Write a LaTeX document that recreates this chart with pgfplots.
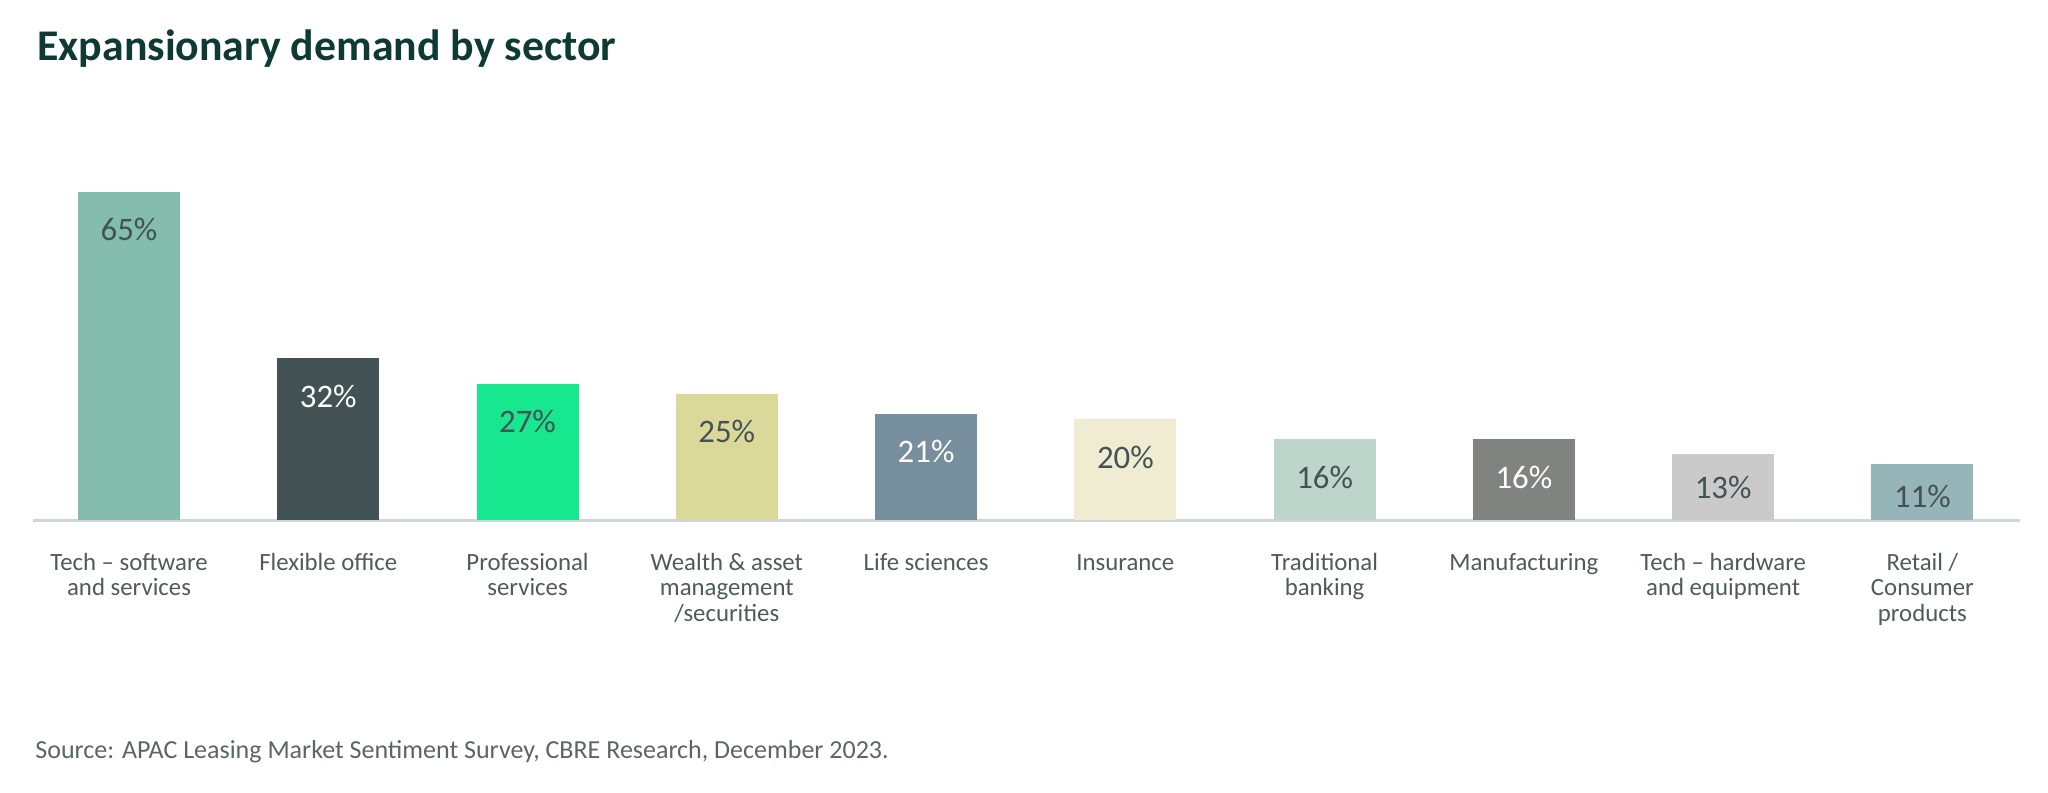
\documentclass[border=0pt]{standalone}
\usepackage{fontspec}
\setmainfont{Carlito}
\usepackage{pgfplots}
\pgfplotsset{compat=1.18}

\definecolor{titlecol}{HTML}{0F3A34}
\definecolor{labelcol}{HTML}{4F5A5C}
\definecolor{srccol}{HTML}{5B6566}
\definecolor{numdark}{HTML}{435254}
\definecolor{axisline}{HTML}{CDD6D8}
\definecolor{c1}{HTML}{84BCAD}
\definecolor{c2}{HTML}{435254}
\definecolor{c3}{HTML}{17E88F}
\definecolor{c4}{HTML}{DBD99A}
\definecolor{c5}{HTML}{778F9C}
\definecolor{c6}{HTML}{EFECD2}
\definecolor{c7}{HTML}{BED5CB}
\definecolor{c8}{HTML}{7F8480}
\definecolor{c9}{HTML}{CACACA}
\definecolor{c10}{HTML}{96B5B9}

\pgfplotsset{
  onebar/.style 2 args={fill=#1, draw=none, bar shift=0pt,
    every node near coord/.append style={text=#2}},
}

\begin{document}
\begin{tikzpicture}
\useasboundingbox (-16.5pt,-136pt) rectangle (1007.5pt,260pt);

\node[anchor=base west, inner sep=0pt, text=titlecol,
      font=\fontsize{21.9}{24}\selectfont\bfseries] at (2pt,229.5pt)
  {Expansionary demand by sector};

\begin{axis}[
  at={(0,0)}, anchor=south west,
  scale only axis, width=993.5pt, height=176.75pt,
  xmin=-0.482, xmax=9.49, ymin=0, ymax=70,
  ybar, bar width=51pt,
  axis x line*=bottom, axis y line=none,
  x axis line style={draw=axisline, line width=1.5pt},
  major tick length=0pt,
  xtick={0,...,9},
  xticklabels={
    {\strut Tech – software\\and services},
    {\strut Flexible office},
    {\strut Professional\\services},
    {\strut Wealth \& asset\\management\\/securities},
    {\strut Life sciences},
    {\strut Insurance},
    {\strut Traditional\\banking},
    {\strut Manufacturing},
    {\strut Tech – hardware\\and equipment},
    {\strut Retail /\\Consumer\\products}},
  xticklabel style={anchor=north, align=center, inner sep=0pt,
    yshift=-16.1pt, text=labelcol,
    font=\fontsize{12.4}{12.75}\selectfont},
  ytick=\empty,
  nodes near coords={\pgfmathprintnumber{\pgfplotspointmeta}\%},
  every node near coord/.append style={anchor=base, yshift=-24.5pt,
    font=\fontsize{16.4}{16}\selectfont},
  /pgf/number format/assume math mode=true,
  clip=false,
]
\addplot[onebar={c1}{numdark}] coordinates {(0,65)};
\addplot[onebar={c2}{white}] coordinates {(1,32)};
\addplot[onebar={c3}{numdark}] coordinates {(2,27)};
\addplot[onebar={c4}{numdark}] coordinates {(3,25)};
\addplot[onebar={c5}{white}] coordinates {(4,21)};
\addplot[onebar={c6}{numdark}] coordinates {(5,20)};
\addplot[onebar={c7}{numdark}] coordinates {(6,16)};
\addplot[onebar={c8}{white}] coordinates {(7,16)};
\addplot[onebar={c9}{numdark}, every node near coord/.append style={yshift=2.5pt}] coordinates {(8,13)};
\addplot[onebar={c10}{numdark}, every node near coord/.append style={yshift=3pt}] coordinates {(9,11)};
\end{axis}

\node[anchor=base west, inner sep=0pt, text=srccol,
      font=\fontsize{13}{15}\selectfont] at (1pt,-119pt)
  {Source: APAC Leasing Market Sentiment Survey, CBRE Research, December 2023.};
\end{tikzpicture}
\end{document}
